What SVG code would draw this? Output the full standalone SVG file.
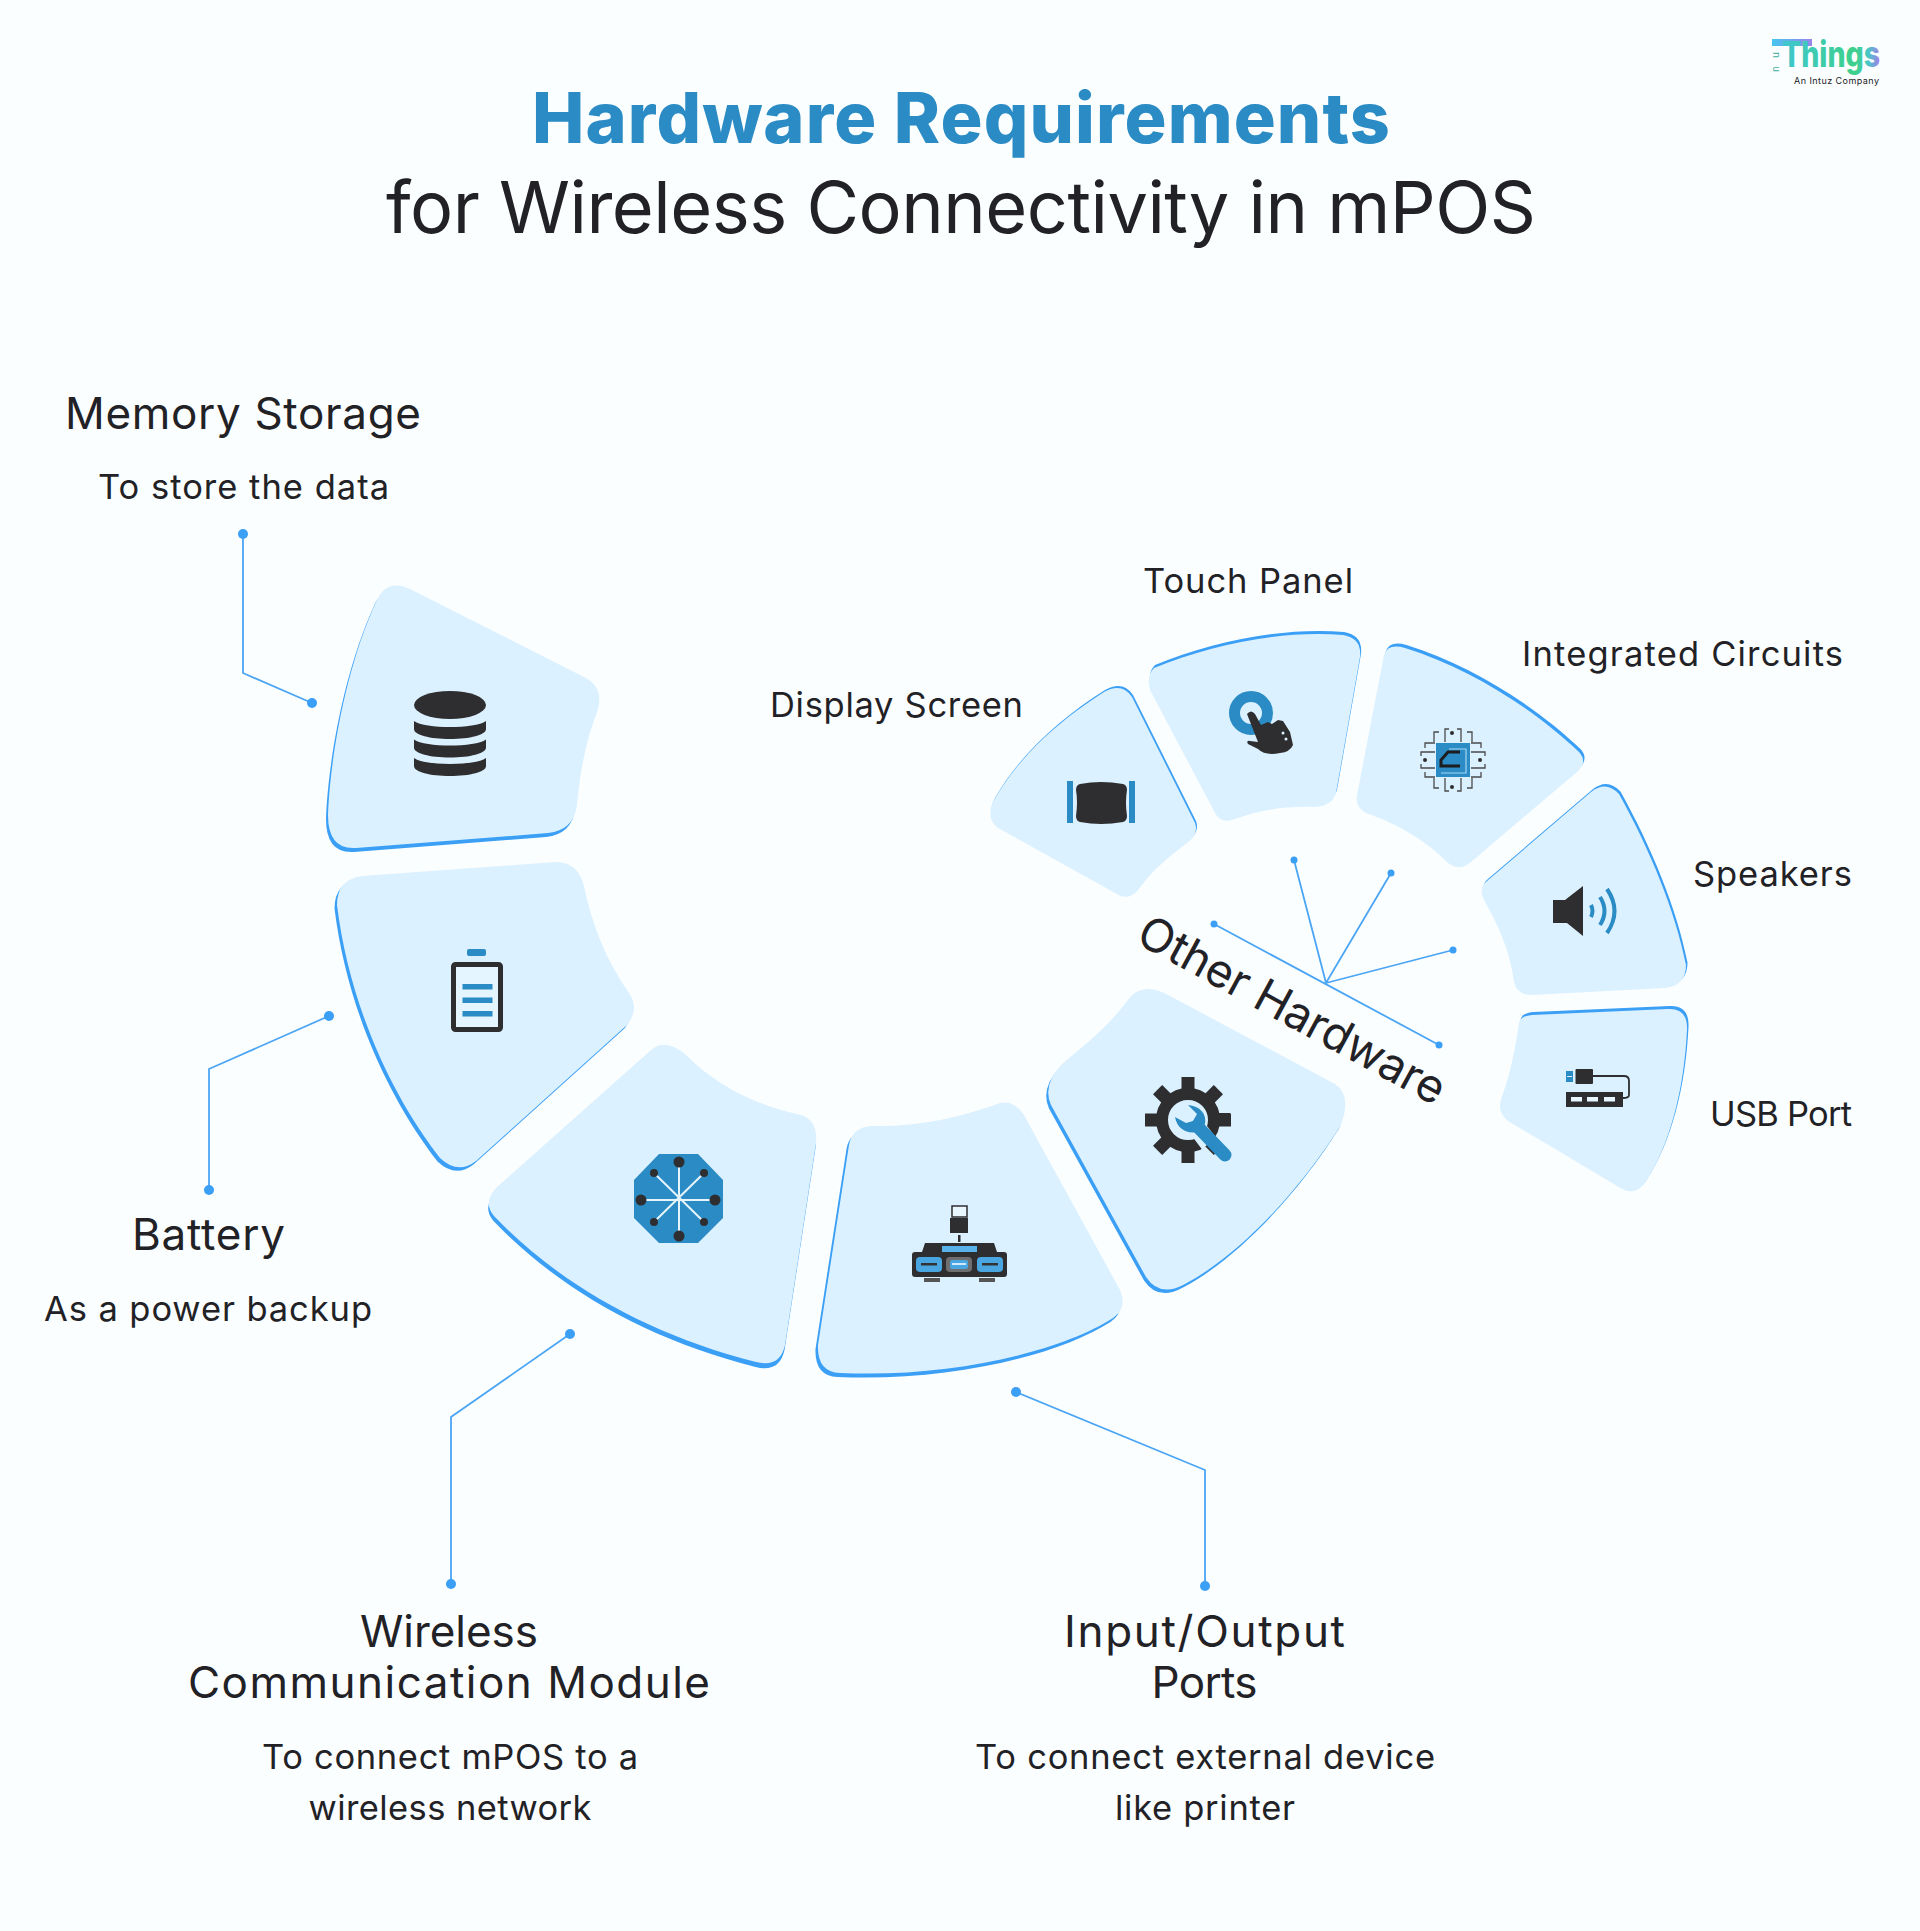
<svg xmlns="http://www.w3.org/2000/svg" width="1920" height="1931" viewBox="0 0 1920 1931">
<style>
text{font-family:"Inter","Noto Sans","Liberation Sans",sans-serif;fill:#222226}
.h{font-size:44px;font-weight:400}
.s{font-size:34.500px;font-weight:400}
.m{text-anchor:middle}
.edge{fill:#3a9ff5}
.card{fill:#dcf1ff}
.dk{fill:#2e2e30}
.bl{fill:#2a8bc5}
.con{fill:none;stroke:#4aa5f5;stroke-width:1.8}
.dot{fill:#3a9ff5}
.pin{fill:none;stroke:#4a4a4c;stroke-width:1.3}
</style>
<defs>
<linearGradient id="lg" x1="0" x2="1" y1="0" y2="0"><stop offset="0" stop-color="#3fc6d0"/><stop offset=".75" stop-color="#3ed08a"/><stop offset=".88" stop-color="#46c8c8"/><stop offset="1" stop-color="#a77be8"/></linearGradient>
<linearGradient id="lt" x1="0" x2="1" y1="0" y2="0"><stop offset="0" stop-color="#45c6ee"/><stop offset="1" stop-color="#9a86ea"/></linearGradient>
<path id="p1" d="M376,602 Q386,578 410,589 L586,678 Q605,689 597,712 Q582,750 577,805 Q574,830 548,833 L356,848 Q328,850 328,815 C330,760 345,670 376,602 Z"/>
<path id="p2" d="M337,905 Q337,879 362,876 L556,862 Q578,862 584,886 C592,925 606,960 629,993 Q640,1009 627,1025 L476,1161 Q458,1175 440,1158 C395,1100 350,1010 337,905 Z"/>
<path id="p3" d="M651,1050 Q664,1038 684,1053 C715,1085 755,1105 801,1115 Q818,1120 816,1143 L785,1345 Q780,1368 756,1362 C650,1335 560,1285 494,1216 Q482,1202 497,1187 Z"/>
<path id="p4" d="M849,1145 Q852,1127 872,1126 C915,1127 960,1118 1000,1103 Q1014,1100 1024,1115 L1120,1290 Q1128,1308 1113,1318 C1060,1352 950,1378 840,1373 Q817,1372 818,1345 Z"/>
<path id="p5" d="M1131,996 Q1146,982 1170,996 L1335,1084 Q1352,1095 1341,1125 C1300,1190 1240,1255 1185,1284 Q1160,1298 1146,1277 L1051,1105 Q1042,1085 1062,1064 C1085,1045 1110,1025 1131,996 Z"/>
<path id="p6" d="M1519,1023 Q1520,1016 1532,1015 L1668,1009 Q1688,1008 1687,1030 C1684,1090 1670,1145 1645,1183 Q1634,1198 1617,1186 L1508,1121 Q1497,1112 1501,1100 C1510,1075 1515,1050 1519,1023 Z"/>
<path id="p7" d="M1487,881 L1591,792 Q1606,780 1619,794 C1650,850 1675,910 1686,965 Q1686,986 1665,988 L1532,995 Q1517,995 1514,982 C1510,950 1498,925 1484,900 Q1478,888 1487,881 Z"/>
<path id="p8" d="M1384,655 Q1388,643 1405,648 C1470,668 1535,710 1579,752 Q1588,762 1577,772 L1471,862 Q1460,872 1448,863 C1425,840 1400,825 1366,813 Q1355,808 1357,795 Z"/>
<path id="p9" d="M1154,668 C1210,645 1280,630 1343,635 Q1362,638 1360,657 L1336,793 Q1332,806 1315,807 C1285,806 1258,810 1232,820 Q1220,823 1215,813 L1150,690 Q1146,676 1154,668 Z"/>
<path id="p10" d="M994,800 C1020,755 1060,720 1104,692 Q1122,682 1132,697 L1195,823 Q1199,834 1187,843 C1167,858 1150,873 1138,890 Q1128,902 1115,893 L998,828 Q985,818 994,800 Z"/>
<path id="band" d="M414,721 C425,729 475,729 486,721 V729 C486,735 470,739 450,739 C430,739 414,735 414,729 Z"/>
<rect id="tooth" x="1181.500" y="1077" width="13" height="17"/>
</defs>
<rect width="1920" height="1931" fill="#fbfeff"/>

<g id="title">
<text x="532" y="143" font-size="70" font-weight="800" textLength="858" style="fill:#2a8bc5">Hardware Requirements</text>
<text x="386" y="233" font-size="72" textLength="1150">for Wireless Connectivity in mPOS</text>
</g>

<g id="logo">
<rect x="1772" y="39" width="40" height="7" fill="url(#lt)"/>
<text x="1779" y="72" font-size="10" transform="rotate(-90 1779 72)" textLength="20" style="fill:#3fb0a0">nu</text>
<text x="1782" y="67" font-size="36" font-weight="800" textLength="98" lengthAdjust="spacingAndGlyphs" style="fill:url(#lg)">Things</text>
<text x="1794" y="84" font-size="9" textLength="85">An Intuz Company</text>
</g>

<g id="connectors">
<path class="con" d="M243,534 V673 L312,703"/>
<path class="con" d="M329,1016 L209,1069 V1190"/>
<path class="con" d="M570,1334 L451,1417 V1584"/>
<path class="con" d="M1016,1392 L1205,1470 V1586"/>
<path class="con" d="M1294,860 L1326,983 L1391,873 M1326,983 L1453,950 M1214,924 L1439,1045"/>
<circle class="dot" cx="243" cy="534" r="5"/><circle class="dot" cx="312" cy="703" r="5"/>
<circle class="dot" cx="329" cy="1016" r="5"/><circle class="dot" cx="209" cy="1190" r="5"/>
<circle class="dot" cx="570" cy="1334" r="5"/><circle class="dot" cx="451" cy="1584" r="5"/>
<circle class="dot" cx="1016" cy="1392" r="5"/><circle class="dot" cx="1205" cy="1586" r="5"/>
<circle class="dot" cx="1294" cy="860" r="3.500"/><circle class="dot" cx="1391" cy="873" r="3.500"/><circle class="dot" cx="1453" cy="950" r="3.500"/><circle class="dot" cx="1214" cy="924" r="3.500"/><circle class="dot" cx="1439" cy="1045" r="3.500"/>
</g>

<g id="memory-storage">
<use href="#p1" class="edge" transform="translate(-2,4)"/><use href="#p1" class="card"/>
<ellipse class="dk" cx="450" cy="705" rx="36" ry="14"/>
<use href="#band" class="dk"/><use href="#band" class="dk" y="18.500"/><use href="#band" class="dk" y="37"/>
<text class="h" x="65" y="429" textLength="356">Memory Storage</text>
<text class="s" x="98" y="499" textLength="291">To store the data</text>
</g>

<g id="battery">
<use href="#p2" class="edge" transform="translate(-2.500,3.500)"/><use href="#p2" class="card"/>
<rect class="bl" x="467" y="949" width="19" height="7" rx="2"/>
<rect x="453.500" y="964.500" width="47" height="65" rx="2" fill="#e4f5ff" stroke="#2e2e30" stroke-width="5"/>
<rect class="bl" x="462.500" y="984" width="30" height="5.500"/><rect class="bl" x="462.500" y="997.500" width="30" height="5.500"/><rect class="bl" x="462.500" y="1011" width="30" height="5.500"/>
<text class="h" x="132" y="1250" textLength="153">Battery</text>
<text class="s" x="44" y="1321" textLength="328">As a power backup</text>
</g>

<g id="wireless-communication-module">
<use href="#p3" class="edge" transform="translate(-0.500,5)"/><use href="#p3" class="card"/>
<polygon class="bl" points="659,1154 698,1154 723,1180 723,1218 698,1243 659,1243 634,1218 634,1180"/>
<path d="M679,1162 V1236 M641,1200 H715 M654,1173 L704,1222 M704,1173 L654,1222" stroke="#e6f4fc" stroke-width="2" fill="none"/>
<g class="dk"><circle cx="679" cy="1162" r="5.500"/><circle cx="679" cy="1236" r="5.500"/><circle cx="641" cy="1200" r="5.500"/><circle cx="715" cy="1200" r="5.500"/><circle cx="654" cy="1173" r="4"/><circle cx="704" cy="1173" r="4"/><circle cx="654" cy="1222" r="4"/><circle cx="704" cy="1222" r="4"/></g>
<text class="h m" x="449" y="1647" textLength="178">Wireless</text>
<text class="h m" x="449" y="1698" textLength="522">Communication Module</text>
<text class="s m" x="450" y="1769" textLength="376">To connect mPOS to a</text>
<text class="s m" x="450" y="1820" textLength="283">wireless network</text>
</g>

<g id="input-output-ports">
<use href="#p4" class="edge" transform="translate(-2.500,4)"/><use href="#p4" class="card"/>
<rect x="952" y="1206" width="15" height="11" fill="#e8f6ff" stroke="#2e2e30" stroke-width="1.500"/>
<rect class="dk" x="950" y="1218" width="18" height="15"/><rect class="dk" x="958" y="1235" width="2.500" height="7"/>
<polygon class="dk" points="925,1243 994,1243 997,1252 922,1252"/>
<rect x="942" y="1246" width="35" height="6" fill="#5ab2ea"/>
<rect class="dk" x="912" y="1252" width="95" height="25" rx="3"/>
<rect x="916" y="1257" width="26" height="15" rx="4" fill="#4aa6e0"/>
<rect x="946" y="1257" width="26" height="15" rx="4" fill="#6f6f72"/><rect x="950" y="1260" width="18" height="9" rx="2" fill="#4aa6e0"/>
<rect x="977" y="1257" width="26" height="15" rx="4" fill="#4aa6e0"/>
<rect x="921" y="1263" width="16" height="2.500" fill="#333"/><rect x="982" y="1263" width="16" height="2.500" fill="#333"/><rect x="952" y="1263" width="14" height="2" fill="#cfeaff"/>
<rect x="924" y="1278" width="16" height="4" fill="#555"/><rect x="979" y="1278" width="16" height="4" fill="#555"/>
<text class="h m" x="1204.500" y="1647" textLength="281">Input/Output</text>
<text class="h m" x="1204.500" y="1698" textLength="106">Ports</text>
<text class="s m" x="1205" y="1769" textLength="460">To connect external device</text>
<text class="s m" x="1205" y="1820" textLength="180">like printer</text>
</g>

<g id="other-hardware">
<use href="#p5" class="edge" transform="translate(-2,3.500)"/><use href="#p5" class="card"/>
<circle cx="1188" cy="1120" r="26" fill="none" stroke="#2e2e30" stroke-width="12"/>
<g class="dk"><use href="#tooth"/><use href="#tooth" transform="rotate(45 1188 1120)"/><use href="#tooth" transform="rotate(90 1188 1120)"/><use href="#tooth" transform="rotate(180 1188 1120)"/><use href="#tooth" transform="rotate(225 1188 1120)"/><use href="#tooth" transform="rotate(270 1188 1120)"/><use href="#tooth" transform="rotate(315 1188 1120)"/></g>
<path d="M1195,1125 L1225,1165" stroke="#dcf1ff" stroke-width="18" fill="none"/>
<rect class="dk" x="1219" y="1113" width="11" height="13"/>
<rect class="dk" transform="rotate(135 1188 1120)" x="1181.500" y="1077" width="13" height="12"/>
<path d="M1197,1126 L1225,1155" stroke="#2a8bc5" stroke-width="13" stroke-linecap="round" fill="none"/>
<path class="bl" d="M1175,1117 C1177,1129 1187,1134 1197,1132 L1205,1124 C1207,1114 1200,1106 1188,1105 L1197,1114 L1193,1121 L1186,1123 Z"/>
<text x="1134" y="942" font-size="46" textLength="343" transform="rotate(28.600 1134 942)">Other Hardware</text>
</g>

<g id="usb-port">
<use href="#p6" class="edge" transform="translate(1.500,-3)"/><use href="#p6" class="card"/>
<rect class="bl" x="1566" y="1071" width="7" height="11"/><path d="M1567,1076.500 H1572" stroke="#dcf1ff" stroke-width="1"/>
<rect class="dk" x="1575.500" y="1069" width="17.500" height="15" rx="1"/>
<path d="M1593,1076 H1624 Q1629,1076 1629,1081 V1095 Q1629,1098 1623,1098" fill="none" stroke="#2e2e30" stroke-width="1.800"/>
<rect class="dk" x="1566" y="1092" width="57" height="15"/>
<rect x="1571" y="1097" width="11" height="4.500" fill="#e8f6ff"/><rect x="1587" y="1097" width="11" height="4.500" fill="#e8f6ff"/><rect x="1604" y="1097" width="11" height="4.500" fill="#e8f6ff"/>
<text class="s" x="1710" y="1126" textLength="142">USB Port</text>
</g>

<g id="speakers">
<use href="#p7" class="edge" transform="translate(1.500,-2.500)"/><use href="#p7" class="card"/>
<polygon class="dk" points="1553,900 1565,900 1583,886 1583,936 1567,923 1553,923"/>
<path d="M1591,905 Q1594,911 1591,917 M1600,897 Q1609,911 1600,925 M1607,889 Q1622,911 1607,933" fill="none" stroke="#2a8bc5" stroke-width="4"/>
<text class="s" x="1693" y="886" textLength="159">Speakers</text>
</g>

<g id="integrated-circuits">
<use href="#p8" class="edge" transform="translate(1.500,-3)"/><use href="#p8" class="card"/>
<rect class="bl" x="1436" y="743" width="34" height="34"/>
<path d="M1449,749 H1466 V773 H1441" fill="none" stroke="#a6d8f5" stroke-width="1.200"/>
<path d="M1460,752 H1448 L1441,760 V766 H1460" fill="none" stroke="#1d1d1f" stroke-width="3"/>
<path class="pin" d="M1434,742 V732 H1439 M1445,742 V729 H1449 M1461,742 V729 H1457 M1472,742 V732 H1467 M1434,778 V788 H1439 M1445,778 V791 H1449 M1461,778 V791 H1457 M1472,778 V788 H1467 M1435,743 H1425 V748 M1435,752 H1421 V756 M1435,768 H1421 V764 M1435,777 H1425 V772 M1471,743 H1481 V748 M1471,752 H1485 V756 M1471,768 H1485 V764 M1471,777 H1481 V772"/>
<g class="dk"><circle cx="1452" cy="733" r="2"/><circle cx="1452" cy="787" r="2"/><circle cx="1425" cy="760" r="2"/><circle cx="1480" cy="760" r="2"/></g>
<text class="s" x="1522" y="666" textLength="321">Integrated Circuits</text>
</g>

<g id="touch-panel">
<use href="#p9" class="edge" transform="translate(1,-3)"/><use href="#p9" class="card"/>
<circle cx="1251" cy="713" r="16.500" fill="none" stroke="#2a8bc5" stroke-width="11"/>
<path class="dk" d="M1247,714 Q1251,709 1255,714 L1261,725 L1268,722 L1272,724 L1278,720 L1283,721 L1290,732 L1293,745 Q1290,752 1280,753 Q1265,756 1258,749 L1248,744 Q1246,740 1250,741 L1258,742 Z"/>
<circle cx="1283" cy="733" r="1.500" fill="#dcf1ff"/><circle cx="1286" cy="739" r="1.500" fill="#dcf1ff"/>
<text class="s" x="1143" y="593" textLength="210">Touch Panel</text>
</g>

<g id="display-screen">
<use href="#p10" class="edge" transform="translate(1,-2)"/><use href="#p10" class="card"/>
<rect class="bl" x="1067" y="781" width="6" height="42"/><rect class="bl" x="1129" y="781" width="6" height="42"/>
<path class="dk" d="M1080,784 Q1101,780 1123,784 Q1127,785 1127,790 Q1125,802 1127,816 Q1127,821 1123,822 Q1101,826 1080,822 Q1076,821 1076,816 Q1078,802 1076,790 Q1076,785 1080,784 Z"/>
<text class="s" x="770" y="717" textLength="253">Display Screen</text>
</g>
</svg>
